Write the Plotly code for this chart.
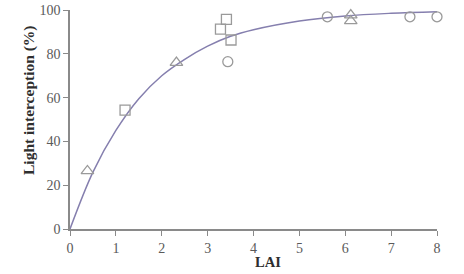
import plotly.graph_objects as go

# Data
tri_x = [0.38, 2.32, 6.12, 6.12]
tri_y = [26.5, 76.0, 97.7, 95.0]
sq_x = [1.2, 3.28, 3.41, 3.51]
sq_y = [54.3, 91.3, 95.7, 86.3]
circ_x = [3.44, 5.61, 7.41, 8.0]
circ_y = [76.4, 96.9, 96.9, 96.9]
curve_x = [0, 0.5, 1, 1.5, 2, 2.5, 3, 3.5, 4, 5, 6, 7, 8]
curve_y = [0, 26, 45, 59.5, 70, 77.5, 83.5, 88, 91, 95, 97.3, 98.5, 99.2]
x_ticks = [0, 1, 2, 3, 4, 5, 6, 7, 8]
y_ticks = [0, 20, 40, 60, 80, 100]

FONT = "Liberation Serif"
MC = "#9a9a9a"

fig = go.Figure()
fig.add_trace(go.Scatter(x=curve_x, y=curve_y, mode="lines",
                         line=dict(color="#857fae", width=1.5, shape="spline"),
                         hoverinfo="skip", cliponaxis=False))
fig.add_trace(go.Scatter(x=tri_x, y=tri_y, mode="markers", cliponaxis=False,
                         marker=dict(symbol="triangle-up-open", size=11, color=MC, line=dict(color=MC, width=1.3))))
fig.add_trace(go.Scatter(x=sq_x, y=sq_y, mode="markers", cliponaxis=False,
                         marker=dict(symbol="square-open", size=10, color=MC, line=dict(color=MC, width=1.3))))
fig.add_trace(go.Scatter(x=circ_x, y=circ_y, mode="markers", cliponaxis=False,
                         marker=dict(symbol="circle-open", size=10, color=MC, line=dict(color=MC, width=1.3))))

axis_common = dict(showgrid=False, zeroline=False, showline=True, linecolor="#8a8a8a",
                   linewidth=1.5, ticks="outside", ticklen=5, tickwidth=1.2, automargin=False,
                   tickcolor="#8a8a8a", tickfont=dict(family=FONT, size=14, color="#5a5a5a"))
fig.update_xaxes(range=[0, 8], tickvals=x_ticks, **axis_common)
fig.update_yaxes(range=[0, 100], tickvals=y_ticks, **axis_common)

L, R, T, B = 70, 27, 10, 45
pw, ph = 464 - L - R, 274 - T - B

fig.update_layout(
    width=464, height=274,
    margin=dict(l=L, r=R, t=T, b=B, pad=0, autoexpand=False),
    plot_bgcolor="white", paper_bgcolor="white",
    showlegend=False,
)
fig.add_annotation(text="<b>LAI</b>", x=(268 - L) / pw, y=(274 - B - 262) / ph,
                   xref="paper", yref="paper", xanchor="center", yanchor="middle",
                   showarrow=False, font=dict(family=FONT, size=14.5, color="#2e2e2e"))
fig.add_annotation(text="<b>Light interception (%)</b>", textangle=-90,
                   x=(29 - L) / pw, y=(274 - B - 100) / ph, xref="paper", yref="paper",
                   xanchor="center", yanchor="middle",
                   showarrow=False, font=dict(family=FONT, size=15.5, color="#2e2e2e"))

fig.write_html("out.html")
